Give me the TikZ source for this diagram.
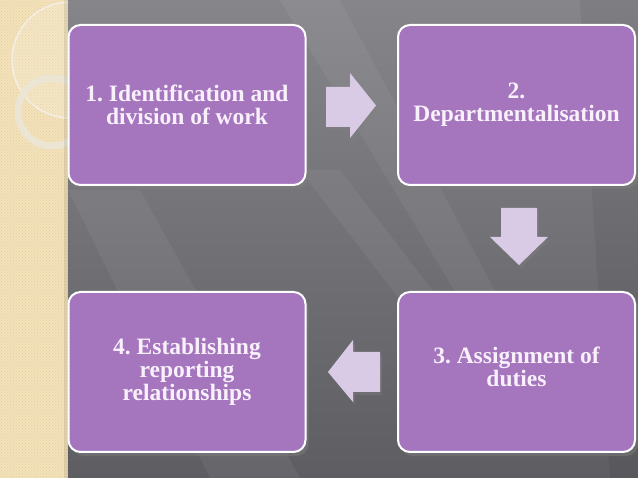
\documentclass[tikz,border=0pt]{standalone}
\usepackage{fontspec}
\setmainfont{Liberation Serif}
\usepackage{tikz}
\usetikzlibrary{shadows,patterns}

\definecolor{boxpurple}{RGB}{165,118,190}
\definecolor{arrowlilac}{RGB}{217,203,230}
\definecolor{textwhite}{RGB}{248,240,250}
\definecolor{stripbeige}{RGB}{243,226,186}
\definecolor{stripdots}{RGB}{226,204,160}
\definecolor{ringcream}{RGB}{236,229,212}
\definecolor{graytop}{RGB}{134,133,138}
\definecolor{graybottom}{RGB}{94,93,98}

\begin{document}
\frenchspacing
\begin{tikzpicture}
	[
		x=1pt, y=-1pt,
		step box/.style = {rectangle, rounded corners=12pt, align=center, draw=white, line width=2pt,
			fill=boxpurple, text=textwhite, minimum width=237pt, minimum height=160pt,
			font=\bfseries\fontsize{23.5}{23}\selectfont,
			drop shadow={shadow xshift=3pt, shadow yshift=-4pt, opacity=0.45}},
		block arrow/.style = {fill=arrowlilac,
			drop shadow={shadow xshift=2pt, shadow yshift=-3pt, opacity=0.4}},
		streak/.style = {fill=white, opacity=0.05},
	]

	\useasboundingbox (0,0) rectangle (638,478);

	% background
	\shade[top color=graytop, bottom color=graybottom] (68,0) rectangle (638,478);
	\fill[streak] (280,0) -- (340,0) -- (500,300) -- (460,300) -- cycle;
	\fill[streak] (300,170) -- (340,170) -- (440,300) -- (400,300) -- cycle;
	\fill[streak] (68,190) -- (140,190) -- (300,478) -- (210,478) -- cycle;
	\fill[black, opacity=0.06] (580,0) -- (638,0) -- (638,478) -- (610,478) -- cycle;

	% left strip
	\fill[stripbeige] (0,0) rectangle (68,478);
	\fill[pattern=crosshatch dots, pattern color=stripdots] (0,0) rectangle (68,478);
	\begin{scope}
		\clip (0,0) rectangle (68,478);
		\fill[white, opacity=0.15] (70,60) circle (58);
		\draw[ringcream!60!white, line width=1.5pt] (70,60) circle (58);
		\draw[ringcream, line width=7pt] (52,112) circle (34);
	\end{scope}
	\fill[black, opacity=0.08] (64,0) rectangle (68,478);

	% steps
	\node[step box] (box1) 	at ( 187.0, 105.0 ) {1. Identification and\\division of work};
	\node[step box] (box2) 	at ( 516.5, 105.0 ) {2.\\Departmentalisation};
	\node[step box] (box3) 	at ( 516.5, 372.0 ) {3. Assignment of\\duties\vphantom{g}\\[-12pt]};
	\node[step box] (box4) 	at ( 187.0, 372.0 ) {4. Establishing\\reporting\\relationships};

	% arrows
	\fill[block arrow] (326,87) -- (350,87) -- (350,73) -- (376,105.5) -- (350,138) -- (350,127) -- (326,127) -- cycle;
	\fill[block arrow] (501,208) -- (537,208) -- (537,237) -- (548,237) -- (519,265) -- (490,237) -- (501,237) -- cycle;
	\fill[block arrow] (380,352) -- (353,352) -- (353,340) -- (328,372) -- (353,402) -- (353,392) -- (380,392) -- cycle;

	\end{tikzpicture}
\end{document}
